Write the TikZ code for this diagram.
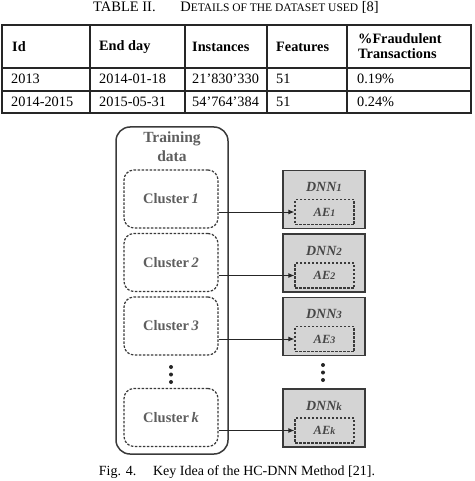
\documentclass[tikz,border=0pt]{standalone}
\usepackage{fontspec}
\setmainfont{Liberation Serif}
\usetikzlibrary{arrows.meta, positioning}

\definecolor{linegray}{HTML}{3A3A3A}
\definecolor{textgray}{HTML}{5E5E5E}
\definecolor{boxgray}{HTML}{D4D4D4}

\begin{document}
\begin{tikzpicture}[x=1pt, y=-1pt,
    tabline/.style = {line width=1.1pt, draw=black!85},
    cell/.style = {anchor=west, inner sep=0pt, font=\fontsize{14.3}{15}\selectfont},
    head/.style = {cell, font=\fontsize{14.3}{15}\selectfont\bfseries, align=left},
    outerbox/.style = {draw=linegray, line width=1.5pt, rounded corners=14pt, minimum width=112pt, minimum height=327pt},
    clusterbox/.style = {draw=linegray, line width=1.2pt, dash pattern=on 2.5pt off 1.5pt, rounded corners=10pt,
                         minimum width=94pt, minimum height=58pt, text=textgray,
                         font=\fontsize{14.5}{16}\selectfont\bfseries},
    dnnbox/.style = {draw=linegray, line width=1.6pt, fill=boxgray, minimum width=82pt, minimum height=58pt},
    aebox/.style = {draw=linegray, line width=1.2pt, dash pattern=on 2.5pt off 1.5pt, minimum width=59pt, minimum height=25pt,
                    font=\fontsize{12.5}{14}\selectfont\bfseries\itshape, text=black!72},
    dnnlabel/.style = {font=\fontsize{14}{15}\selectfont\bfseries\itshape, text=black!72},
    link/.style = {-{Latex[length=6pt, width=5pt]}, line width=1pt, draw=black!85}]

    \useasboundingbox (0,0) rectangle (474,481);

    % Table
    \node[font=\fontsize{14.5}{15}\selectfont] (title) at (236,7)
        {TABLE II.\hspace{1.7em}D{\fontsize{11.5}{12}\selectfont ETAILS OF THE DATASET USED} [8]};

    \draw[tabline] (2,25) rectangle (471,113);
    \draw[tabline] (2,68) -- (471,68);
    \draw[tabline] (2,91) -- (471,91);
    \foreach \x in {90,185,267,347} \draw[tabline] (\x,25) -- (\x,113);

    \node[head] (hid) at (12,47) {Id};
    \node[head] (hend) at (99,47) {End day};
    \node[head] (hinst) at (192,47) {Instances};
    \node[head] (hfeat) at (276,47) {Features};
    \node[head] (hfraud) at (358,46) {\%Fraudulent\\Transactions};

    \node[cell] (id1) at (11,79) {2013};
    \node[cell] (end1) at (99,79) {2014-01-18};
    \node[cell] (inst1) at (192,79) {21'830'330};
    \node[cell] (feat1) at (276,79) {51};
    \node[cell] (fraud1) at (357,79) {0.19\%};

    \node[cell] (id2) at (11,102) {2014-2015};
    \node[cell] (end2) at (99,102) {2015-05-31};
    \node[cell] (inst2) at (192,102) {54'764'384};
    \node[cell] (feat2) at (276,102) {51};
    \node[cell] (fraud2) at (357,102) {0.24\%};

    % Figure
    \node[outerbox] (train) at (172,290.5) {};
    \node[align=center, text=textgray, font=\fontsize{15.5}{19}\selectfont\bfseries] (trainlabel) at (172,147) {Training\\data};

    \foreach \i/\yc in {1/199, 2/262.5, 3/326, k/417.5} {
        \node[clusterbox] (cl\i) at (171,\yc) {Cluster\,{\itshape\i}};
        \node[dnnbox] (dnn\i) at (324,\yc+0.5) {};
        \node[dnnlabel] (dnnl\i) at (324,\yc-12) {DNN{\fontsize{11}{12}\selectfont\i}};
        \node[aebox] (ae\i) at (324.5,\yc+13) {AE{\fontsize{10}{12}\selectfont\i}};
        \draw[link] (cl\i.east |- ae\i.west) -- (ae\i.west);
    }

    % vertical dots
    \foreach \d in {0,1,2} {
        \fill[black!85] (171,367+7.5*\d) circle (2);
        \fill[black!85] (323,365+7.5*\d) circle (2);
    }

    \node[font=\fontsize{14}{15}\selectfont] (caption) at (237,472)
        {Fig. 4.\hspace{1.2em}Key Idea of the HC-DNN Method [21].};
\end{tikzpicture}
\end{document}
